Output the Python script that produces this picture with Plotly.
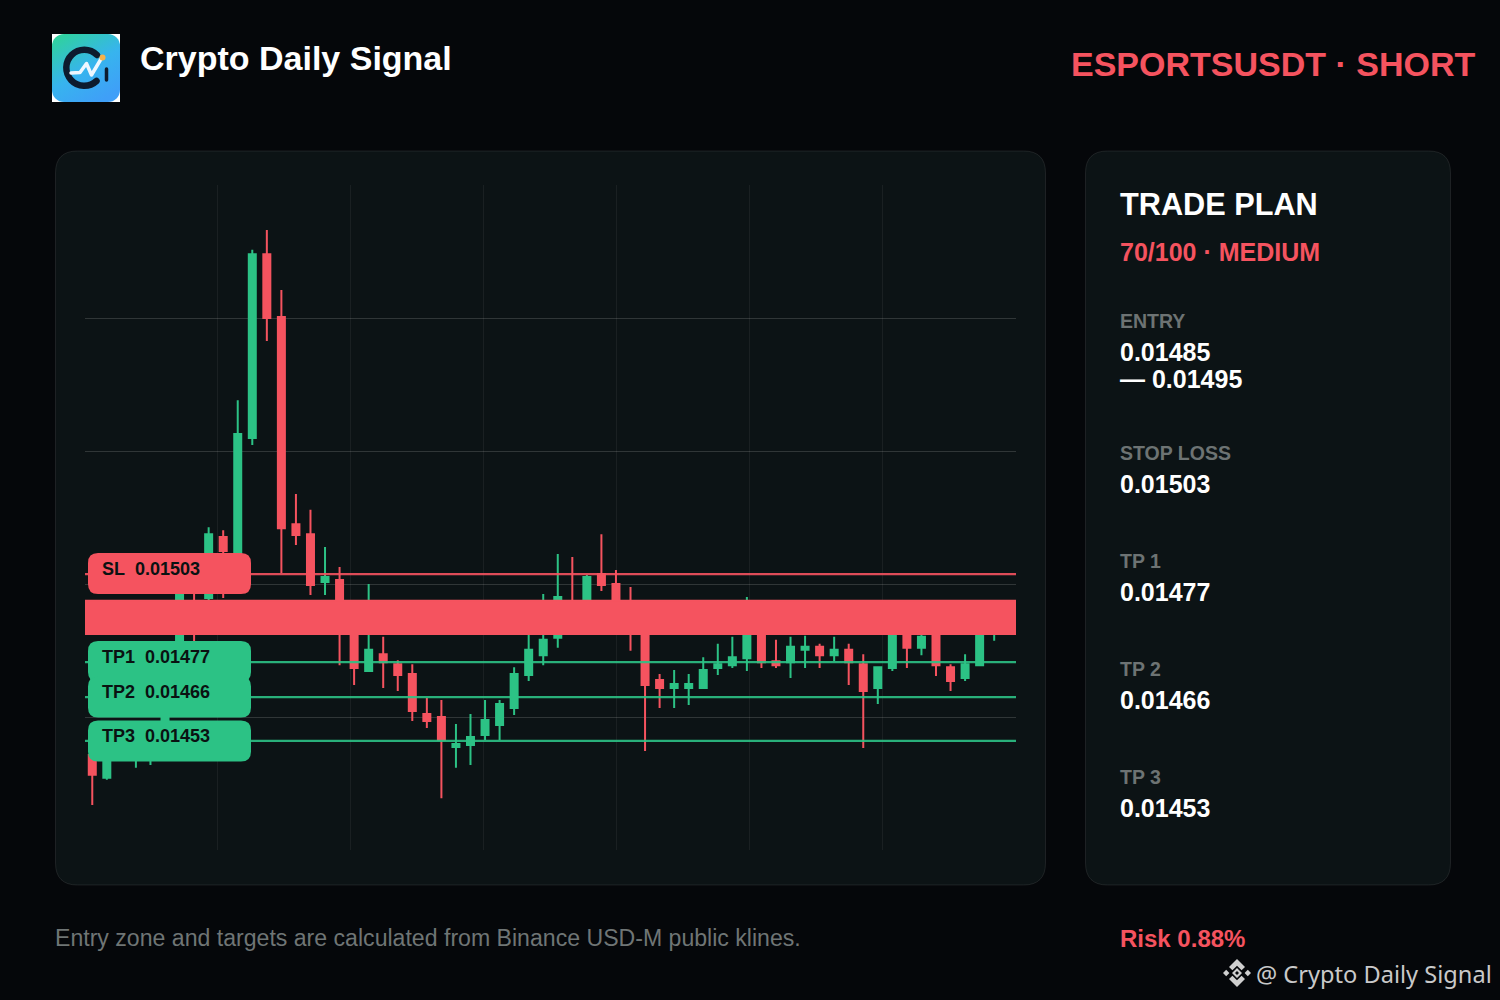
import base64
import numpy as np
import plotly.graph_objects as go

# OHLC values in millionths of USDT (0.014486 -> 14486)
opens_e6 = [14486,14417,14486,14516,14531,14579,14741,15072,14958,15141,15042,15439,15992,15803,15180,15150,
            15006,15012,14922,14738,14789,14759,14729,14609,14600,14510,14516,14546,14576,14627,14726,14786,
            14838,14937,14922,15030,15000,14937,14907,14711,14687,14687,14687,14747,14756,14777,14892,14768,
            14765,14802,14811,14786,14802,14759,14687,14747,14892,14808,14877,14750,14717,14756,14877,14916]
highs_e6 = [14501,14531,14576,14585,14585,14771,15027,15087,15171,15162,15553,16005,16065,15884,15271,15223,
            15111,15051,14946,15000,14841,14771,14759,14657,14651,14579,14609,14651,14651,14750,14877,14970,
            15090,15081,15027,15150,15042,14991,14937,14729,14741,14729,14780,14820,14841,14961,14922,14832,
            14841,14844,14820,14841,14820,14789,14750,14907,14922,14877,14907,14759,14789,14922,14940,14934]
lows_e6 = [14335,14411,14477,14447,14456,14567,14711,14771,14952,14958,15012,15418,15731,15033,15117,14967,
           14967,14756,14696,14735,14687,14678,14588,14567,14356,14447,14456,14531,14531,14606,14708,14756,
           14808,14862,14907,14979,14877,14799,14498,14627,14627,14636,14687,14726,14747,14738,14747,14747,
           14717,14747,14747,14768,14696,14507,14639,14738,14747,14786,14723,14678,14708,14756,14829,14862]
closes_e6 = [14426,14516,14546,14567,14576,14741,14982,14997,15150,15099,15451,15992,15800,15168,15147,14997,
             15021,14892,14747,14802,14765,14726,14618,14588,14531,14519,14540,14591,14639,14729,14802,14832,
             14961,14877,15021,14997,14907,14877,14696,14687,14699,14699,14741,14759,14780,14892,14765,14756,
             14811,14811,14786,14802,14765,14678,14750,14877,14808,14841,14756,14708,14759,14907,14922,14886]

grid_prices = [0.0158, 0.0154, 0.0150, 0.0146]
entry_low, entry_high = 0.01485, 0.01495
level_names = ["SL", "TP1", "TP2", "TP3"]
level_labels = ["0.01503", "0.01477", "0.01466", "0.01453"]
level_prices = [0.01503, 0.014765, 0.01466, 0.014528]

BG = "#05070a"
PANEL = "#0c1315"
RED = "#f5535f"
GREEN = "#2cc285"
GREY = "#6d7373"
W, H = 1500, 1000
X0, X1, Y0, Y1 = 85, 1016, 185, 850
y_min, y_max = 0.0142, 0.0162
n = len(opens_e6)
xs = np.arange(n) + 0.5


def px(x):
    return x / W


def py(y):
    return 1 - y / H


def rrect(x0, y0, x1, y1, r, **kw):
    a, b, c, d = px(x0), px(x1), py(y0), py(y1)
    rx, ry = r / W, r / H
    path = (f"M{a+rx},{c} L{b-rx},{c} Q{b},{c} {b},{c-ry} L{b},{d+ry} Q{b},{d} {b-rx},{d} "
            f"L{a+rx},{d} Q{a},{d} {a},{d+ry} L{a},{c-ry} Q{a},{c} {a+rx},{c} Z")
    return dict(type="path", path=path, xref="paper", yref="paper", **kw)


def svg_uri(svg):
    return "data:image/svg+xml;base64," + base64.b64encode(svg.encode()).decode()


logo_svg = """<svg xmlns='http://www.w3.org/2000/svg' width='68' height='68' viewBox='0 0 68 68'>
<defs><linearGradient id='g' x1='0.1' y1='0' x2='0.7' y2='1'><stop offset='0' stop-color='#2fd39a'/>
<stop offset='0.55' stop-color='#37b4ee'/><stop offset='1' stop-color='#3f9ff8'/></linearGradient></defs>
<rect width='68' height='68' fill='#ffffff'/><rect width='68' height='68' rx='12' fill='url(#g)'/>
<path d='M45 21 A18 18 0 1 0 44.5 47' fill='none' stroke='#0d1b2e' stroke-width='6.5' stroke-linecap='round'/>
<path d='M19 39 L28 38.5 L34.5 29.5 L39.5 41 L49 25' fill='none' stroke='#eef7ff' stroke-width='3.5' stroke-linecap='round' stroke-linejoin='round'/>
<circle cx='50.5' cy='23.5' r='3' fill='#f5b24a'/>
<path d='M54.5 35 V46' stroke='#0d1b2e' stroke-width='3.5' stroke-linecap='round'/>
</svg>"""

binance_svg = """<svg xmlns='http://www.w3.org/2000/svg' width='28' height='28' viewBox='0 0 28 28'>
<g fill='#cfcfcf'><path d='M14 0 L22 8 L18.6 11.2 L14 6.8 L9.4 11.2 L6 8 Z'/>
<path d='M14 28 L22 20 L18.6 16.8 L14 21.2 L9.4 16.8 L6 20 Z'/>
<path d='M0 14 L3.2 10.8 L6.4 14 L3.2 17.2 Z'/><path d='M28 14 L24.8 10.8 L21.6 14 L24.8 17.2 Z'/>
<path fill-rule='evenodd' d='M14 9 L19 14 L14 19 L9 14 Z M14 12 L12 14 L14 16 L16 14 Z'/></g></svg>"""

fig = go.Figure(go.Candlestick(
    x=xs,
    open=np.array(opens_e6) / 1e6, high=np.array(highs_e6) / 1e6,
    low=np.array(lows_e6) / 1e6, close=np.array(closes_e6) / 1e6,
    increasing=dict(line=dict(color=GREEN, width=2), fillcolor=GREEN),
    decreasing=dict(line=dict(color=RED, width=2), fillcolor=RED),
    whiskerwidth=0, hoverinfo="skip", showlegend=False,
))

shapes = [
    rrect(55.5, 151, 1045.5, 885, 22, fillcolor=PANEL, line=dict(color="rgba(255,255,255,0.09)", width=1), layer="below"),
    rrect(1085.5, 151, 1450.5, 885, 22, fillcolor=PANEL, line=dict(color="rgba(255,255,255,0.09)", width=1), layer="below"),
]
for name, price in zip(level_names, level_prices):
    colour = "rgba(245,83,95,0.9)" if name == "SL" else "rgba(44,194,133,0.9)"
    shapes.append(dict(type="line", xref="x", yref="y", x0=0, x1=n, y0=price, y1=price,
                       line=dict(color=colour, width=2.2), layer="above"))
shapes.append(dict(type="rect", xref="x", yref="y", x0=0, x1=n, y0=entry_low, y1=entry_high,
                   fillcolor=RED, line=dict(color=RED, width=2), layer="above"))
for name, cy in zip(level_names, [573.5, 661.5, 697, 741]):
    shapes.append(rrect(88, cy - 20.5, 251, cy + 20.5, 10, fillcolor=RED if name == "SL" else GREEN,
                        line=dict(width=0), layer="above"))

SANS = "Liberation Sans"


def text(x, y, s, size, colour, bold=True, anchor="left", family=SANS):
    return dict(x=px(x), y=py(y), xref="paper", yref="paper", text=s, showarrow=False, xanchor=anchor,
                yanchor="middle", borderpad=0, align=anchor,
                font=dict(family=family, size=size, color=colour, weight=700 if bold else 400))


annotations = [
    text(139, 58, "Crypto Daily Signal", 34, "#ffffff"),
    text(1476, 64, "ESPORTSUSDT · SHORT", 34, RED, anchor="right"),
    text(1119, 204.5, "TRADE PLAN", 30.7, "#ffffff"),
    text(1119, 252, "70/100 · MEDIUM", 25, RED),
    text(1119, 321, "ENTRY", 19.5, GREY),
    text(1119, 352, "0.01485", 25, "#ffffff"),
    text(1119, 379.5, "— 0.01495", 25, "#ffffff"),
    text(1119, 452.5, "STOP LOSS", 19.5, GREY),
    text(1119, 484, level_labels[0], 25, "#ffffff"),
    text(1119, 560.5, "TP 1", 19.5, GREY),
    text(1119, 592, level_labels[1], 25, "#ffffff"),
    text(1119, 668.5, "TP 2", 19.5, GREY),
    text(1119, 700, level_labels[2], 25, "#ffffff"),
    text(1119, 776.5, "TP 3", 19.5, GREY),
    text(1119, 808, level_labels[3], 25, "#ffffff"),
    text(54, 938, "Entry zone and targets are calculated from Binance USD-M public klines.", 23.1, "#6f7575", bold=False),
    text(1119, 938.5, "Risk 0.88%", 24, RED),
    text(1255, 974, "@ Crypto Daily Signal", 23.6, "#c9c9c9", bold=False, family="Noto Sans"),
]
for name, lab, cy in zip(level_names, level_labels, [568.5, 656.5, 691.5, 735.5]):
    annotations.append(text(101, cy, f"{name}\u00a0\u00a0{lab}", 18, "#0a1212"))

images = [
    dict(source=svg_uri(logo_svg), xref="paper", yref="paper", x=px(52), y=py(34), sizex=68 / W, sizey=68 / H,
         xanchor="left", yanchor="top", sizing="stretch", layer="above"),
    dict(source=svg_uri(binance_svg), xref="paper", yref="paper", x=px(1223), y=py(959), sizex=28 / W, sizey=28 / H,
         xanchor="left", yanchor="top", sizing="stretch", layer="above"),
]

fig.update_layout(
    width=W, height=H, margin=dict(l=0, r=0, t=0, b=0, autoexpand=False),
    paper_bgcolor=BG, plot_bgcolor="rgba(0,0,0,0)", boxgap=0.465, boxgroupgap=0.1,
    shapes=shapes, annotations=annotations, images=images, showlegend=False, hovermode=False,
    xaxis=dict(domain=[px(X0), px(X1)], range=[0, n], rangeslider=dict(visible=False),
               tickvals=[n / 7 * k - 0.03 for k in range(1, 7)], showticklabels=False, ticks="", zeroline=False,
               showline=False, gridcolor="rgba(255,255,255,0.06)", gridwidth=1),
    yaxis=dict(domain=[py(Y1), py(Y0)], range=[y_min, y_max], tickvals=grid_prices, showticklabels=False,
               ticks="", zeroline=False, showline=False, gridcolor="rgba(255,255,255,0.15)", gridwidth=1),
)
fig.write_html("out.html", config=dict(displayModeBar=False),
               post_script=f"document.body.style.margin='0';document.body.style.background='{BG}';document.body.style.overflow='hidden';")
